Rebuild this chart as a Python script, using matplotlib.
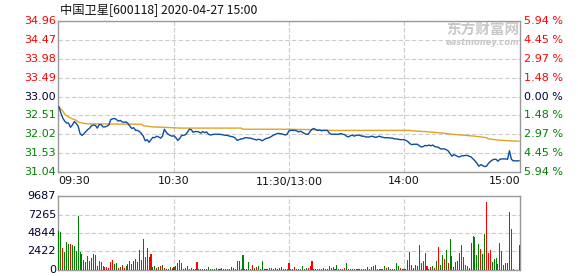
import matplotlib
matplotlib.use('Agg')
import matplotlib.pyplot as plt

plt.rcParams['font.family'] = ['DejaVu Sans']

title_text = '中国卫星[600118] 2020-04-27 15:00'
pre_close = 33.00
price_ticks = [34.96, 34.47, 33.98, 33.49, 33.00, 32.51, 32.02, 31.53, 31.04]
pct_labels = ['5.94 %', '4.45 %', '2.97 %', '1.48 %', '0.00 %', '1.48 %', '2.97 %', '4.45 %', '5.94 %']
vol_ticks = [9687, 7265, 4844, 2422, 0]
time_labels = ['09:30', '10:30', '11:30/13:00', '14:00', '15:00']
time_pos = [0, 60, 120, 180, 240]

price = [
    32.73, 32.57, 32.44, 32.36, 32.31, 32.31, 32.20, 32.26, 32.35, 32.30,
    32.23, 32.04, 31.99, 32.03, 32.09, 32.14, 32.18, 32.24, 32.26, 32.25,
    32.18, 32.27, 32.27, 32.21, 32.21, 32.23, 32.26, 32.40, 32.42, 32.43,
    32.40, 32.36, 32.38, 32.34, 32.33, 32.34, 32.30, 32.23, 32.17, 32.19,
    32.12, 32.12, 32.09, 32.04, 31.97, 31.85, 31.88, 31.81, 31.88, 31.94,
    31.93, 31.97, 31.95, 31.92, 31.97, 32.15, 32.07, 32.02, 31.99, 31.97,
    31.98, 31.93, 31.86, 31.91, 31.99, 31.99, 32.01, 32.07, 32.15, 32.14,
    32.07, 32.09, 32.09, 32.08, 32.05, 32.09, 32.06, 32.08, 32.02, 32.00,
    32.01, 32.02, 32.02, 32.02, 32.02, 32.01, 32.00, 31.99, 31.99, 31.97,
    31.96, 31.95, 31.92, 31.86, 31.88, 31.90, 31.90, 31.93, 31.93, 31.92,
    31.92, 31.90, 31.89, 31.87, 31.89, 31.88, 31.85, 31.88, 31.91, 31.92,
    31.94, 31.97, 32.00, 32.02, 32.04, 32.04, 32.03, 32.02, 32.00, 32.02, 32.11,
    32.12, 32.12, 32.12, 32.11, 32.08, 32.10, 32.07, 32.04, 32.02, 32.02,
    32.09, 32.15, 32.17, 32.14, 32.12, 32.13, 32.11, 32.12, 32.12, 32.12,
    32.05, 32.02, 32.02, 32.02, 32.02, 32.02, 32.04, 32.02, 32.01, 31.97,
    31.95, 31.98, 32.00, 31.97, 31.99, 32.00, 31.99, 31.97, 31.97, 31.95,
    31.95, 31.95, 31.97, 31.96, 31.94, 31.95, 31.97, 31.95, 31.94, 31.93,
    31.93, 31.93, 31.92, 31.92, 31.90, 31.90, 31.89, 31.88, 31.88, 31.88,
    31.86, 31.83, 31.78, 31.75, 31.76, 31.76, 31.76, 31.72, 31.69, 31.70,
    31.73, 31.72, 31.74, 31.72, 31.74, 31.70, 31.69, 31.68, 31.64, 31.64,
    31.64, 31.62, 31.59, 31.52, 31.45, 31.49, 31.47, 31.44, 31.43, 31.46,
    31.46, 31.47, 31.47, 31.45, 31.43, 31.38, 31.33, 31.27, 31.19, 31.23,
    31.21, 31.18, 31.19, 31.26, 31.31, 31.35, 31.37, 31.37, 31.32, 31.37,
    31.38, 31.38, 31.38, 31.37, 31.59, 31.37, 31.33, 31.33, 31.33, 31.33,
]

avg_idx = [0, 2, 3, 5, 7, 9, 10, 12, 15, 43, 44, 49, 55, 63, 95, 96, 120, 131,
           141, 183, 184, 191, 200, 205, 210, 217, 223, 224, 229, 235, 240]
avg_val = [32.73, 32.62, 32.54, 32.47, 32.42, 32.38, 32.34, 32.31, 32.29, 32.28,
           32.24, 32.21, 32.20, 32.18, 32.18, 32.15, 32.15, 32.14, 32.12, 32.12,
           32.11, 32.09, 32.05, 32.02, 32.00, 31.97, 31.93, 31.90, 31.87, 31.85, 31.84]

volume = [
    5100, 5000, 2900, 2400, 3700, 3400, 3400, 3300, 3200, 2500,
    7100, 2400, 2100, 1300, 1050, 1850, 1200, 1600, 2100, 2000,
    530, 1200, 1050, 530, 400, 400, 260, 1050, 1300, 800,
    920, 260, 400, 660, 260, 530, 800, 1200, 800, 1200,
    1450, 1050, 2600, 1300, 4000, 1700, 2900, 1700, 2100, 400,
    530, 260, 400, 530, 660, 260, 130, 130, 400, 260,
    400, 530, 920, 1300, 920, 130, 260, 530, 130, 260,
    130, 130, 1050, 130, 130, 130, 130, 130, 400, 130,
    130, 130, 260, 130, 130, 260, 130, 130, 130, 130,
    400, 260, 130, 1200, 1200, 130, 2000, 130, 130, 1050,
    130, 660, 260, 400, 530, 130, 1200, 130, 130, 130,
    260, 260, 130, 260, 130, 260, 400, 130, 130, 130,
    920,
    130, 130, 400, 130, 130, 130, 530, 130, 260, 260,
    530, 1200, 130, 130, 130, 130, 130, 260, 130, 130,
    530, 260, 400, 130, 660, 130, 130, 130, 260, 920,
    130, 130, 130, 130, 130, 130, 130, 130, 130, 130,
    400, 130, 400, 530, 660, 130, 130, 130, 130, 530,
    260, 400, 130, 130, 130, 920, 530, 260, 130, 130,
    130, 1300, 2400, 660, 260, 660, 530, 3300, 920, 1200,
    2250, 530, 130, 400, 530, 260, 1200, 3050, 660, 2000,
    1450, 2600, 920, 4000, 1850, 400, 1050, 1200, 2250, 3300,
    1700, 660, 530, 260, 3550, 4500, 4350, 2000, 3400, 2750,
    2100, 4750, 8950, 2250, 2600, 1050, 1450, 1600, 800, 3550,
    2500, 660, 920, 920, 7650, 5400, 130, 0, 0, 3300,
]
vol_dir = ("ggrgggrggg" "ggrrrrrrrg" "rggrrrrrrg" "grgrrgggrg" "grgggrgrrg" "grgrgrgggr"
           "grgrrgrrgr" "ggrrggrggg" "ggggggrrgg" "grrgrggrrg" "grgrgrgrgg" "grgrrrgrrg" "r"
           "ggrggrgrgr" "rrggggrrgg" "grrggrrgrg" "rrgrrrrgrg" "rgrggrggrg" "rgrrgggrgg"
           "gggrrgggrg" "rrgrgrgrgg" "rgrggrrggr" "rrrggrgggr" "ggrrrggggr" "rgggrgrggr")

RED = '#FF0000'
GREEN = '#008000'
DARK = '#000033'
GRID = '#CCCCCC'
FRAME = '#999999'

W, H = 578, 276
fig = plt.figure(figsize=(W / 100, H / 100), dpi=100)
ax = fig.add_axes([58 / W, (H - 172) / H, 462 / W, 151 / H])
axv = fig.add_axes([58 / W, (H - 270) / H, 462 / W, 74 / H])

n = len(price)
for a in (ax, axv):
    a.set_xlim(-0.5, n - 0.5)
    a.set_xticks(time_pos[1:-1])
    a.tick_params(length=0, labelbottom=False, labelleft=False)
    a.grid(True, linestyle=(0, (4, 2)), color=GRID, linewidth=0.8)
    a.set_axisbelow(True)
    for s in a.spines.values():
        s.set_color(FRAME)
        s.set_linewidth(1.0)

# price panel
ax.set_ylim(price_ticks[-1], price_ticks[0])
ax.set_yticks(price_ticks)
ax.plot(range(n), price, color='#0B4EA2', linewidth=1.0, zorder=3)
ax.plot(avg_idx, avg_val, color='#E1A325', linewidth=1.0, zorder=2)

for v, pl in zip(price_ticks, pct_labels):
    if v > pre_close + 1e-9:
        c = RED
    elif v < pre_close - 1e-9:
        c = GREEN
    else:
        c = DARK
    ax.text(-2 / 462, v, f'{v:.2f}', transform=ax.get_yaxis_transform(),
            ha='right', va='center', fontsize=8, color=c)
    ax.text(1 + 4 / 462, v, pl, transform=ax.get_yaxis_transform(),
            ha='left', va='center', fontsize=8, color=c)

for p, lab in zip(time_pos, time_labels):
    ha = 'center'
    x = p
    if p == time_pos[0]:
        ha = 'left'
        x = -0.5
    elif p == time_pos[-1]:
        ha = 'right'
        x = n - 0.5
    ax.text(x, -9.5 / 151, lab, transform=ax.get_xaxis_transform(),
            ha=ha, va='center', fontsize=8, color='#111111')

# volume panel
axv.set_ylim(0, vol_ticks[0])
axv.set_yticks(vol_ticks[1:-1])
bar_colors = [RED if d == 'r' else GREEN for d in vol_dir]
axv.bar(range(len(volume)), volume, width=0.55, color=bar_colors, linewidth=0,
        antialiased=False, zorder=3)
for v in vol_ticks:
    axv.text(-2 / 462, v, str(v), transform=axv.get_yaxis_transform(),
             ha='right', va='center', fontsize=8, color=DARK)

# title
fig.text(60 / W, 1 - 9.5 / H, title_text, fontsize=8.8,
         family=['Noto Sans CJK SC', 'DejaVu Sans'], ha='left', va='center', color='#111111')

# watermark
fig.text(519 / W, 1 - 30 / H, '东方财富网', fontsize=10.5, weight='bold',
         family=['Noto Sans CJK SC'], ha='right', va='center', color='#C8C8C8')
fig.text(519 / W, 1 - 42.5 / H, 'eastmoney.com', fontsize=6, weight='bold', style='italic',
         ha='right', va='center', color='#C8C8C8')

fig.savefig('out.png', dpi=100)
